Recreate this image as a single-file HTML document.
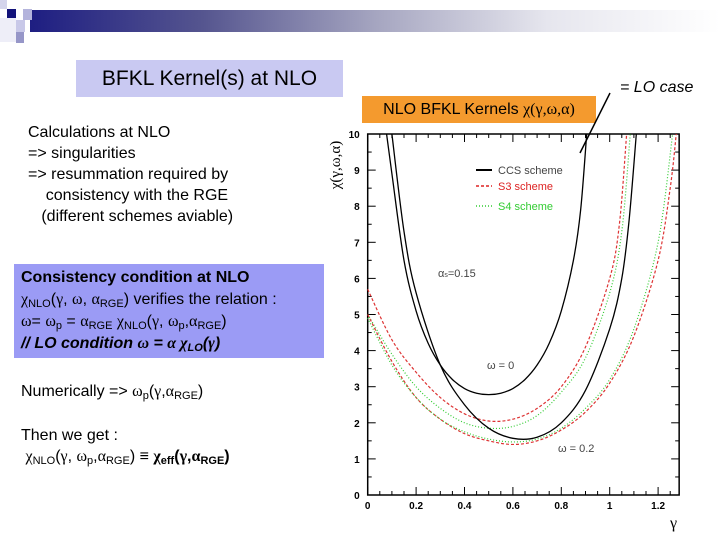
<!DOCTYPE html>
<html><head><meta charset="utf-8">
<style>
body{margin:0;width:720px;height:540px;background:#fff;position:relative;overflow:hidden;font-family:"Liberation Sans",sans-serif;color:#000}
.abs{position:absolute}
.t{font-size:16px;line-height:21px;white-space:nowrap}
.sym{font-family:"Liberation Serif",serif}
sub{font-size:11px;vertical-align:baseline;position:relative;top:3px;line-height:0}
</style></head><body>
<div class="abs" style="left:30px;top:10px;width:690px;height:22px;background:linear-gradient(90deg,#1e1e82 0%,#55558f 25%,#a5a5c0 50%,#e6e6ee 75%,#fff 100%)"></div>
<div class="abs" style="left:7px;top:9px;width:9px;height:9px;background:#13137a"></div>
<div class="abs" style="left:0px;top:0px;width:7px;height:9px;background:#d4d4ec"></div>
<div class="abs" style="left:23px;top:9px;width:9px;height:11px;background:#b4b4dc"></div>
<div class="abs" style="left:16px;top:20px;width:9px;height:12px;background:#c8c8e8"></div>
<div class="abs" style="left:16px;top:32px;width:8px;height:11px;background:#9696c8"></div>
<div class="abs" style="left:0px;top:18px;width:16px;height:24px;background:#eeeef8"></div>

<div class="abs" style="left:76px;top:60px;width:267px;height:37px;background:#c9c9f2;font-size:21px;line-height:37px;text-align:center">BFKL Kernel(s) at NLO</div>

<div class="abs t" style="left:28px;top:122px">Calculations at NLO<br>=&gt; singularities<br>=&gt; resummation required by<br>&nbsp;&nbsp;&nbsp;&nbsp;consistency with the RGE<br>&nbsp;&nbsp;&nbsp;(different schemes aviable)</div>

<div class="abs t" style="left:14px;top:264px;width:310px;height:94px;background:#9b9bf5;padding-left:7px;line-height:22px;padding-top:3px;box-sizing:border-box">
<b>Consistency condition at NLO</b><br>
<span class="sym">χ</span><sub>NLO</sub>(<span class="sym">γ</span>, <span class="sym">ω</span>, <span class="sym">α</span><sub>RGE</sub>) verifies the relation :<br>
<span class="sym">ω</span>= <span class="sym">ω</span><sub>p</sub> = <span class="sym">α</span><sub>RGE</sub> <span class="sym">χ</span><sub>NLO</sub>(<span class="sym">γ</span>, <span class="sym">ω</span><sub>p</sub>,<span class="sym">α</span><sub>RGE</sub>)<br>
<b><i>// LO condition <span class="sym">ω</span> = <span class="sym">α χ</span><sub>LO</sub>(<span class="sym">γ</span>)</i></b></div>

<div class="abs t" style="left:21px;top:381px">Numerically =&gt; <span class="sym">ω</span><sub>p</sub>(<span class="sym">γ</span>,<span class="sym">α</span><sub>RGE</sub>)</div>
<div class="abs t" style="left:21px;top:425px">Then we get :<br>&nbsp;<span class="sym">χ</span><sub>NLO</sub>(<span class="sym">γ</span>, <span class="sym">ω</span><sub>p</sub>,<span class="sym">α</span><sub>RGE</sub>) ≡ <b><span class="sym">χ</span><sub>eff</sub>(<span class="sym">γ</span>,<span class="sym">α</span><sub>RGE</sub>)</b></div>

<div class="abs" style="left:362px;top:96px;width:234px;height:27px;background:#f49a2e;font-size:16px;line-height:27px;text-align:center">NLO BFKL Kernels <span class="sym">χ(γ,ω,α)</span></div>
<div class="abs t" style="left:620px;top:77px"><i>= LO case</i></div>

<svg class="abs" style="left:0;top:0" width="720" height="540">
<g id="axes"></g><g id="curves"></g>
<line x1="610" y1="93" x2="580" y2="153" stroke="#000" stroke-width="1.5"/>
<text x="340" y="165" transform="rotate(-90 340 165)" text-anchor="middle" font-family="Liberation Serif,serif" font-size="15">χ(γ,ω,α)</text>
<text x="670" y="528" font-family="Liberation Serif,serif" font-size="16">γ</text>
<text x="438" y="277" font-family="Liberation Sans,sans-serif" font-size="11" fill="#444">α<tspan font-size="7">s</tspan>=0.15</text>
<text x="487" y="369" font-family="Liberation Sans,sans-serif" font-size="11" fill="#444">ω = 0</text>
<text x="558" y="452" font-family="Liberation Sans,sans-serif" font-size="11" fill="#444">ω = 0.2</text>
<g font-family="Liberation Sans,sans-serif" font-size="11">
<line x1="476" y1="170" x2="492" y2="170" stroke="#000" stroke-width="2"/><text x="498" y="174" fill="#444">CCS scheme</text>
<line x1="476" y1="186" x2="492" y2="186" stroke="#d22" stroke-width="1.5" stroke-dasharray="3,2"/><text x="498" y="190" fill="#d22">S3 scheme</text>
<line x1="476" y1="206" x2="492" y2="206" stroke="#3c3" stroke-width="1.5" stroke-dasharray="1,2"/><text x="498" y="210" fill="#3c3">S4 scheme</text>
</g>
</svg>

<script>
const xTicks=[0,0.2,0.4,0.6,0.8,1,1.2];
const xTickLabels=["0","0.2","0.4","0.6","0.8","1","1.2"];
const yTicks=[0,1,2,3,4,5,6,7,8,9,10];
const ccsW0X=[0.078,0.1,0.15,0.2,0.25,0.3,0.35,0.4,0.45,0.5,0.55,0.6,0.65,0.7,0.75,0.8,0.85,0.88,0.905];
const ccsW0Y=[10,8.9,6.5,5.1,4.2,3.6,3.2,2.95,2.82,2.78,2.82,2.95,3.2,3.6,4.2,5.1,6.5,7.9,10];
const ccsW2X=[0.1,0.15,0.2,0.3,0.4,0.5,0.6,0.7,0.8,0.9,1.0,1.05,1.08,1.11];
const ccsW2Y=[10,7.3,5.6,3.6,2.5,1.85,1.57,1.6,2.0,2.9,4.6,6.0,7.6,10];
const s3W0X=[0,0.1,0.2,0.3,0.4,0.5,0.6,0.7,0.8,0.9,1.0,1.04,1.07];
const s3W0Y=[5.7,4.3,3.4,2.7,2.25,2.05,2.1,2.4,3.0,4.1,6.0,7.5,10];
const s4W0X=[0,0.1,0.2,0.3,0.4,0.5,0.6,0.7,0.8,0.9,1.0,1.05,1.085];
const s4W0Y=[5.0,3.9,3.0,2.4,2.0,1.85,1.9,2.2,2.85,3.8,5.6,7.3,10];
const s3W2X=[0,0.1,0.2,0.3,0.4,0.5,0.6,0.7,0.8,0.9,1.0,1.1,1.2,1.25,1.275];
const s3W2Y=[5.0,3.7,2.7,2.1,1.7,1.5,1.4,1.5,1.8,2.3,3.1,4.4,6.5,8.5,10];
const s4W2X=[0,0.1,0.2,0.3,0.4,0.5,0.6,0.7,0.8,0.9,1.0,1.1,1.2,1.26];
const s4W2Y=[4.9,3.6,2.7,2.1,1.75,1.55,1.47,1.55,1.85,2.4,3.2,4.6,7.0,10];

const X0=367.7,XS=242,Y0=495,YS=36.1,XMAX=1.287;
function sx(v){return X0+v*XS;}
function sy(v){return Y0-v*YS;}
const NS="http://www.w3.org/2000/svg";
const axes=document.getElementById('axes');
const frame=document.createElementNS(NS,'rect');
frame.setAttribute('x',sx(0));frame.setAttribute('y',sy(10));
frame.setAttribute('width',sx(XMAX)-sx(0));frame.setAttribute('height',sy(0)-sy(10));
frame.setAttribute('fill','none');frame.setAttribute('stroke','#000');frame.setAttribute('stroke-width','1.5');


axes.appendChild(frame);
function tickLine(x1,y1,x2,y2){
  const l=document.createElementNS(NS,'line');
  l.setAttribute('x1',x1);l.setAttribute('x2',x2);l.setAttribute('y1',y1);l.setAttribute('y2',y2);
  l.setAttribute('stroke','#000');
  
  
  axes.appendChild(l);
}
for(let v=0;v<=XMAX;v+=0.05){
  const major=Math.abs(v/0.2-Math.round(v/0.2))<1e-6;
  const len=major?8:4;
  tickLine(sx(v),sy(0),sx(v),sy(0)-len);
  tickLine(sx(v),sy(10),sx(v),sy(10)+len);
}
for(let v=0;v<=10;v+=0.5){
  const major=Math.abs(v-Math.round(v))<1e-6;
  const len=major?8:4;
  tickLine(sx(0),sy(v),sx(0)+len,sy(v));
  tickLine(sx(XMAX),sy(v),sx(XMAX)-len,sy(v));
}
xTicks.forEach((t,i)=>{
  const tx=document.createElementNS(NS,'text');
  tx.setAttribute('x',sx(t));tx.setAttribute('y',sy(0)+14);tx.setAttribute('text-anchor','middle');
  tx.setAttribute('font-size','10');tx.setAttribute('font-weight','bold');tx.setAttribute('font-family','Liberation Sans,sans-serif');
  tx.textContent=xTickLabels[i];
  
  
  axes.appendChild(tx);
});
yTicks.forEach(t=>{
  const tx=document.createElementNS(NS,'text');
  tx.setAttribute('x',sx(0)-8);tx.setAttribute('y',sy(t)+4);tx.setAttribute('text-anchor','end');
  tx.setAttribute('font-size','10');tx.setAttribute('font-weight','bold');tx.setAttribute('font-family','Liberation Sans,sans-serif');
  tx.textContent=String(t);
  
  
  axes.appendChild(tx);
});
const curves=document.getElementById('curves');
function draw(xs,ys,color,dash,name,w){
  const p=document.createElementNS(NS,'path');
  const pts=xs.map((x,i)=>[sx(x),sy(ys[i])]);
  let d='M'+pts[0][0]+','+pts[0][1];
  for(let i=0;i<pts.length-1;i++){
    const p0=pts[Math.max(0,i-1)],p1=pts[i],p2=pts[i+1],p3=pts[Math.min(pts.length-1,i+2)];
    const c1=[p1[0]+(p2[0]-p0[0])/6,p1[1]+(p2[1]-p0[1])/6];
    const c2=[p2[0]-(p3[0]-p1[0])/6,p2[1]-(p3[1]-p1[1])/6];
    d+=' C'+c1[0]+','+c1[1]+' '+c2[0]+','+c2[1]+' '+p2[0]+','+p2[1];
  }
  p.setAttribute('d',d);p.setAttribute('fill','none');p.setAttribute('stroke',color);p.setAttribute('stroke-width',w);
  if(dash)p.setAttribute('stroke-dasharray',dash);
  
  
  curves.appendChild(p);
}
draw(s3W0X,s3W0Y,'#d33','3,2','s3-omega0-curve',1.2);
draw(s4W0X,s4W0Y,'#3c3','1,2','s4-omega0-curve',1.2);
draw(s3W2X,s3W2Y,'#d33','3,2','s3-omega02-curve',1.2);
draw(s4W2X,s4W2Y,'#3c3','1,2','s4-omega02-curve',1.2);
draw(ccsW0X,ccsW0Y,'#000',null,'ccs-omega0-curve',1.3);
draw(ccsW2X,ccsW2Y,'#000',null,'ccs-omega02-curve',1.3);
</script>
</body></html>
